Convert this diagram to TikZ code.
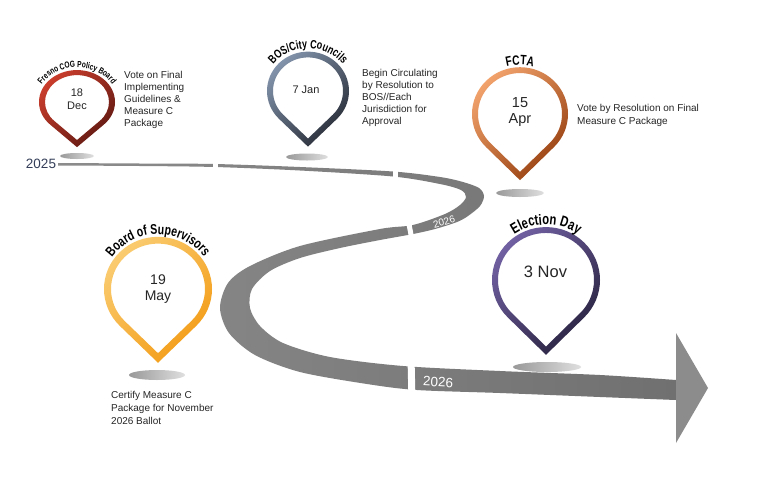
\documentclass[tikz,border=0pt]{standalone}
\usepackage{fontspec}
\setmainfont{Liberation Sans}
\newfontfamily\labelfont[FakeStretch=0.75]{Liberation Sans}
\usetikzlibrary{decorations.text}
\definecolor{cogred}{RGB}{205,62,45}
\definecolor{cogdark}{RGB}{95,25,18}
\definecolor{bosslate}{RGB}{132,150,174}
\definecolor{bosdark}{RGB}{38,42,52}
\definecolor{fctalight}{RGB}{244,165,110}
\definecolor{fctadark}{RGB}{150,62,15}
\definecolor{suplight}{RGB}{250,205,115}
\definecolor{supdark}{RGB}{243,155,20}
\definecolor{elecpurple}{RGB}{115,98,165}
\definecolor{elecdark}{RGB}{40,34,62}
\definecolor{roadgray}{RGB}{112,112,112}
\definecolor{roadlight}{RGB}{140,140,140}
\definecolor{headgray}{RGB}{140,140,140}
\definecolor{yearblue}{RGB}{52,62,88}
\tikzset{
  datetext/.style={align=center, inner sep=0pt, text=black!85},
  notetext/.style={align=left, inner sep=0pt, anchor=north west,
    font=\fontsize{10}{12}\selectfont, text=black!85},
  yeartext/.style={inner sep=0pt, text=white},
  roadgap/.style={draw=white, line width=5pt},
  shadowdisc/.style={left color=gray!80, right color=gray!25}
}
% teardrop marker: cx, cy, radius, yscale, ring, light, dark
\newcommand{\droppin}[7]{%
  \begin{scope}[shift={(#1,#2)}, yscale=#4]
    \shade[even odd rule, top color=#6, bottom color=#7, shading angle=45]
      (0,{1.4142*#3}) -- (45:#3) arc[start angle=45, end angle=-225, radius=#3] -- cycle
      (0,{1.4142*(#3-#5)}) -- (45:{#3-#5}) arc[start angle=45, end angle=-225, radius={#3-#5}] -- cycle;
  \end{scope}}
% curved title over a marker: cx, cy, radius, yscale, size, text
\newcommand{\pinlabel}[6]{%
  \begin{scope}[shift={(#1,#2)}, yscale=#4]
    \path[decorate, decoration={text along path, text align=center,
      text={|\labelfont\bfseries\fontsize{#5}{#5}\selectfont|#6}}]
      (185:#3) arc[start angle=185, end angle=355, radius=#3];
  \end{scope}}

\begin{document}
\begin{tikzpicture}[x=1pt, y=-1pt]
\fill[white] (0,0) rectangle (768,496);
\useasboundingbox (0,0) rectangle (768,496);

% road
\shade[left color=roadlight, right color=roadgray]
  plot[smooth] coordinates {(58,163) (140,163.5) (215,164) (300,167) (393,171.5)
    (440,177) (463,182) (479,188) (484,196) (480,206) (468,216) (457,222) (435,229)
    (413,234) (380,240) (340,248) (300,258) (270,271) (252,289) (250,308) (260,326)
    (283,343) (330,357) (403,366) (500,371) (600,375) (676,380)}
  -- plot[smooth] coordinates {(676,400) (600,397) (500,393) (417,390) (367,384)
    (300,372) (255,355) (229,333) (220,308) (228,283) (250,266) (300,246) (380,229)
    (413,225) (445,214) (460,205) (466,197) (461,190) (440,184) (393,176.5)
    (300,170.5) (215,167) (140,166) (58,165.5)}
  -- cycle;
\fill[headgray] (676,333) -- (708,388) -- (676,443) -- cycle;
\draw[roadgap] (215.5,158) -- (215.5,172);
\draw[roadgap] (395.5,166) -- (395.5,184);
\draw[roadgap] (408,219) -- (413,245);
\draw[roadgap, line width=7pt] (411,358) -- (412,400);

\node[inner sep=0pt, text=yearblue, font=\fontsize{13.5}{13.5}\selectfont] (y25) at (41,164) {2025};
\node[yeartext, rotate=16, font=\fontsize{10}{10}\selectfont] (y26a) at (444,222) {2026};
\node[yeartext, rotate=-3, font=\fontsize{13.5}{13.5}\selectfont] (y26b) at (438,382) {2026};

% shadows
\shade[shadowdisc] (77,156) ellipse[x radius=17, y radius=3];
\shade[shadowdisc] (307,157) ellipse[x radius=21, y radius=3.5];
\shade[shadowdisc] (520,193) ellipse[x radius=24, y radius=4];
\shade[shadowdisc] (157,375) ellipse[x radius=28, y radius=5];
\shade[shadowdisc] (547,367) ellipse[x radius=34, y radius=5];

% markers
\droppin{77}{102}{38}{0.84}{6}{cogred}{cogdark}
\droppin{308}{91}{41}{0.96}{6}{bosslate}{bosdark}
\droppin{520}{114}{48}{0.975}{6}{fctalight}{fctadark}
\droppin{158}{289}{54}{0.966}{7}{suplight}{supdark}
\droppin{546}{280}{54}{0.98}{6}{elecpurple}{elecdark}

\pinlabel{77}{102}{41}{0.84}{8.8}{Fresno COG Policy Board}
\pinlabel{308}{91}{44.5}{0.96}{12}{BOS/City Councils}
\pinlabel{520}{114}{50.5}{0.975}{13.5}{FCTA}
\pinlabel{158}{289}{56.5}{0.966}{14}{Board of Supervisors}
\pinlabel{546}{280}{56.5}{0.98}{15}{Election Day}

% dates
\node[datetext, font=\fontsize{11}{13}\selectfont] (dec) at (77,99.5) {18\\Dec};
\node[datetext, font=\fontsize{11}{13}\selectfont] (jan) at (306,90) {7 Jan};
\node[datetext, font=\fontsize{14.5}{16}\selectfont] (apr) at (520,112) {15\\Apr};
\node[datetext, font=\fontsize{14}{16}\selectfont] (may) at (158,289) {19\\May};
\node[datetext, font=\fontsize{16.5}{18}\selectfont] (nov) at (545.5,271.5) {3 Nov};

% notes
\node[notetext] (n1) at (124,71.5) {Vote on Final\\Implementing\\Guidelines \&\\Measure C\\Package};
\node[notetext] (n2) at (362,69.5) {Begin Circulating\\by Resolution to\\BOS//Each\\Jurisdiction for\\Approval};
\node[notetext, font=\fontsize{10}{12.5}\selectfont] (n3) at (577,104.5) {Vote by Resolution on Final\\Measure C Package};
\node[notetext, font=\fontsize{10}{13}\selectfont] (n4) at (111,391) {Certify Measure C\\Package for November\\2026 Ballot};
\end{tikzpicture}
\end{document}
